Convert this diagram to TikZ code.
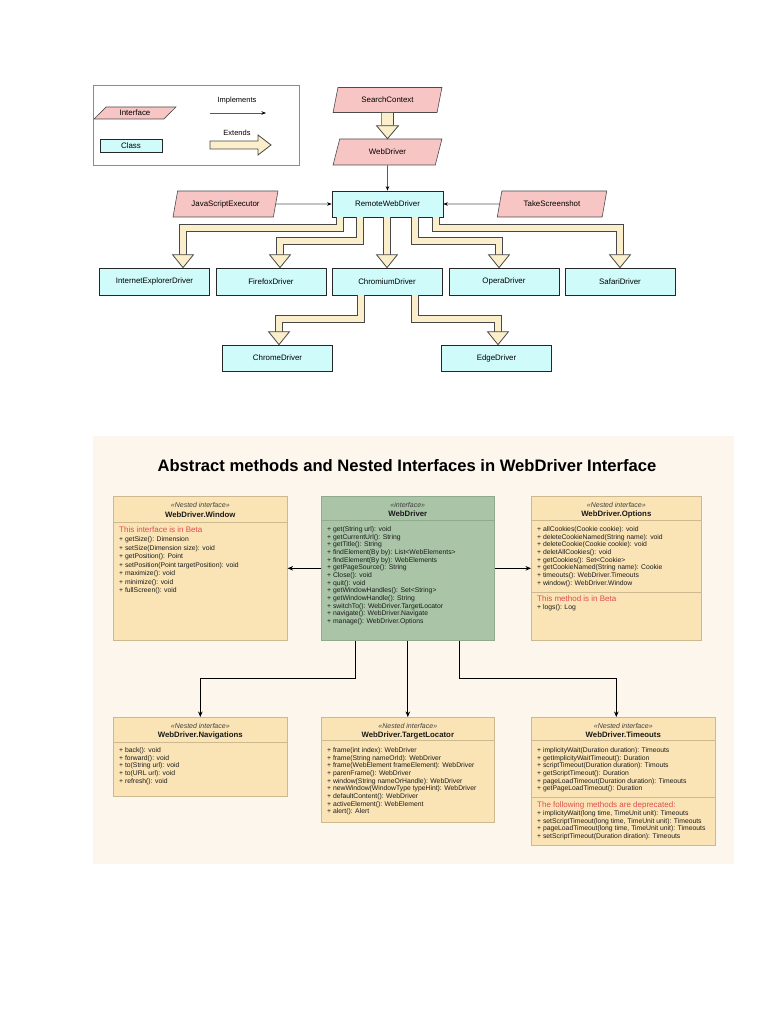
\documentclass[tikz,border=0pt]{standalone}
\usepackage{fontspec}
\setmainfont{Liberation Sans}
\usetikzlibrary{shapes.geometric,arrows.meta,calc}
\definecolor{ifcfill}{HTML}{F7C6C4}
\definecolor{clsfill}{HTML}{CFFBFB}
\definecolor{pipefill}{HTML}{FBEFCB}
\definecolor{panelbg}{HTML}{FDF6EC}
\definecolor{ybox}{HTML}{FAE4B6}
\definecolor{yline}{HTML}{CDB98F}
\definecolor{gbox}{HTML}{A9C4A6}
\definecolor{gline}{HTML}{8FAA8C}
\definecolor{redt}{HTML}{E04B4F}
\definecolor{txt}{HTML}{1A1A1A}
\newcommand\fatpipe[2]{\draw[pipeo] #1; \draw[pipei] #1; \draw[headst] #2 -- ++(-10.5,-13) -- ++(21,0) -- cycle;}
\begin{document}
\begin{tikzpicture}[x=1pt,y=-1pt,
  ifc/.style={trapezium, trapezium left angle=66, trapezium right angle=114, trapezium stretches=true, draw=black!70, line width=0.6pt, fill=ifcfill, minimum width=109pt, minimum height=25pt, inner sep=0pt, font=\fontsize{7.9}{9}\selectfont},
  cls/.style={rectangle, draw=black!85, line width=0.7pt, fill=clsfill, minimum width=110pt, minimum height=27pt, inner sep=0pt, font=\fontsize{7.9}{9}\selectfont},
  lbl/.style={inner sep=0pt, font=\fontsize{7.5}{9}\selectfont},
  impl/.style={draw=black!65, line width=0.6pt, -{Stealth[length=4.5pt,width=3.5pt,color=black]}},
  pipeo/.style={draw=black!72, line width=8pt, line join=miter, shorten >=13pt},
  pipei/.style={draw=pipefill, line width=6.4pt, line join=miter, shorten >=13pt},
  headst/.style={draw=black!72, fill=pipefill, line width=0.8pt, line join=miter},
  ybx/.style={rectangle, draw=yline, line width=0.6pt, fill=ybox, inner sep=0pt, anchor=north west},
  gbx/.style={rectangle, draw=gline, line width=0.6pt, fill=gbox, inner sep=0pt, anchor=north west},
  yl/.style={draw=yline, line width=0.6pt},
  gl/.style={draw=gline, line width=0.6pt},
  stereo/.style={inner sep=0pt, text=black!75, font=\itshape\fontsize{7}{8}\selectfont},
  nm/.style={inner sep=0pt, text=txt, font=\bfseries\fontsize{7.8}{9}\selectfont},
  meth/.style={inner sep=0pt, anchor=north west, align=left, text=txt, font=\fontsize{6.8}{7.67}\selectfont},
  redtxt/.style={inner sep=0pt, anchor=base west, text=redt, font=\fontsize{8}{9}\selectfont},
  uarr/.style={draw=black, line width=0.9pt, -{Stealth[length=5.5pt,width=4.5pt]}}
]
\fill[white] (0,0) rectangle (768,1024);
\useasboundingbox (0,0) rectangle (768,1024);

% ---------- legend ----------
\node[draw=black!45, line width=0.6pt, minimum width=206pt, minimum height=80pt, anchor=north west, inner sep=0pt] (legend) at (93,85) {};
\node[ifc, trapezium left angle=42, trapezium right angle=138, minimum width=82pt, minimum height=12pt] (legI) at (135,113) {Interface};
\node[cls, minimum width=62pt, minimum height=13pt] (legC) at (131,145.5) {Class};
\node[lbl] (legImpl) at (237,101) {Implements};
\coordinate (iA) at (210,113);
\coordinate (iB) at (266,113);
\draw[impl] (iA) -- (iB);
\node[lbl] (legExt) at (237,133) {Extends};
\draw[headst] (210,141) -- (258,141) -- (258,135) -- (271,145) -- (258,155) -- (258,149) -- (210,149) -- cycle;

% ---------- top hierarchy ----------
\node[ifc] (sc) at (387.5,100) {SearchContext};
\node[ifc, minimum height=26pt] (wdi) at (387.5,152) {WebDriver};
\node[cls, minimum width=111pt, minimum height=26pt] (rwd) at (387.5,204) {RemoteWebDriver};
\node[ifc, minimum width=105pt, minimum height=26pt] (jse) at (225.5,204) {JavaScriptExecutor};
\node[ifc, minimum width=110pt, minimum height=26pt] (tss) at (552,204) {TakeScreenshot};
\node[cls] (ie) at (154.5,281.5) {InternetExplorerDriver};
\node[cls] (ff) at (271,281.5) {FirefoxDriver};
\node[cls] (chm) at (387,281.5) {ChromiumDriver};
\node[cls] (op) at (504,281.5) {OperaDriver};
\node[cls] (sf) at (620,281.5) {SafariDriver};
\node[cls, minimum height=26pt] (chr) at (277.5,358) {ChromeDriver};
\node[cls, minimum height=26pt] (edg) at (496.5,358) {EdgeDriver};

\draw[impl] (wdi.south) -- (rwd.north);
\draw[impl] (jse.east) -- (rwd.west);
\draw[impl] (tss.west) -- (rwd.east);

\draw[pipeo, line width=12.5pt] (sc.south) -- (wdi.north);
\draw[pipei, line width=10.9pt] (sc.south) -- (wdi.north);
\draw[headst] (wdi.north) -- ++(-11,-13) -- ++(22,0) -- cycle;

\coordinate (p1) at (340,0);
\coordinate (p2) at (360,0);
\coordinate (p4) at (415,0);
\coordinate (p5) at (436,0);
\coordinate (kIE) at (183,228);
\coordinate (kFF) at (280,241);
\coordinate (kOP) at (499,241);
\coordinate (kSF) at (620,228);
\fatpipe{(rwd.south -| p1) |- (kIE) -- (ie.north -| kIE)}{(ie.north -| kIE)}
\fatpipe{(rwd.south -| p2) |- (kFF) -- (ff.north -| kFF)}{(ff.north -| kFF)}
\fatpipe{(rwd.south -| chm.north) -- (chm.north)}{(chm.north)}
\fatpipe{(rwd.south -| p4) |- (kOP) -- (op.north -| kOP)}{(op.north -| kOP)}
\fatpipe{(rwd.south -| p5) |- (kSF) -- (sf.north -| kSF)}{(sf.north -| kSF)}

\coordinate (q1) at (361,0);
\coordinate (q2) at (415,0);
\coordinate (kCR) at (279,319);
\coordinate (kED) at (498,319);
\fatpipe{(chm.south -| q1) |- (kCR) -- (chr.north -| kCR)}{(chr.north -| kCR)}
\fatpipe{(chm.south -| q2) |- (kED) -- (edg.north -| kED)}{(edg.north -| kED)}

% ---------- bottom panel ----------
\node[fill=panelbg, minimum width=641pt, minimum height=428pt, anchor=north west, inner sep=0pt] (panel) at (93,436) {};
\node[inner sep=0pt, font=\bfseries\fontsize{16.6}{19}\selectfont] (title) at (407,466) {Abstract methods and Nested Interfaces in WebDriver Interface};

% Window
\node[ybx, minimum width=174pt, minimum height=144pt] (win) at (113,496) {};
\draw[yl] ($(win.north west)+(0,26)$) -- ($(win.north east)+(0,26)$);
\node[stereo] (winS) at ($(win.north)+(0,9)$) {<<Nested interface>>};
\node[nm] (winN) at ($(win.north)+(0,19)$) {WebDriver.Window};
\node[redtxt] (winR) at ($(win.north west)+(6,36.9)$) {This interface is in Beta};
\node[meth, font=\fontsize{6.8}{8.5}\selectfont] (winM) at ($(win.north west)+(6,39.35)$) {\strut+ getSize(): Dimension\\+ setSize(Dimension size): void\\+ getPosition(): Point\\+ setPosition(Point targetPosition): void\\+ maximize(): void\\+ minimize(): void\\+ fullScreen(): void};

% WebDriver
\node[gbx, minimum width=173pt, minimum height=144pt] (wd) at (321,496) {};
\draw[gl] ($(wd.north west)+(0,24)$) -- ($(wd.north east)+(0,24)$);
\node[stereo] (wdS) at ($(wd.north)+(0,9)$) {<<interface>>};
\node[nm] (wdN) at ($(wd.north)+(0,18)$) {WebDriver};
\node[meth] (wdM) at ($(wd.north west)+(6,29.9)$) {\strut+ get(String url): void\\+ getCurrentUrl(): String\\+ getTitle(): String\\+ findElement(By by): List<WebElements>\\+ findElement(By by): WebElements\\+ getPageSource(): String\\+ Close(): void\\+ quit(): void\\+ getWindowHandles(): Set<String>\\+ getWindowHandle(): String\\+ switchTo(): WebDriver.TargetLocator\\+ navigate(): WebDriver.Navigate\\+ manage(): WebDriver.Options};

% Options
\node[ybx, minimum width=170pt, minimum height=144pt] (opt) at (531,496) {};
\draw[yl] ($(opt.north west)+(0,24)$) -- ($(opt.north east)+(0,24)$);
\draw[yl] ($(opt.north west)+(0,96)$) -- ($(opt.north east)+(0,96)$);
\node[stereo] (optS) at ($(opt.north)+(0,9)$) {<<Nested interface>>};
\node[nm] (optN) at ($(opt.north)+(0,18)$) {WebDriver.Options};
\node[meth] (optM) at ($(opt.north west)+(6,29.9)$) {\strut+ allCookies(Cookie cookie): void\\+ deleteCookieNamed(String name): void\\+ deleteCookie(Cookie cookie): void\\+ deletAllCookies(): void\\+ getCookies(): Set<Cookie>\\+ getCookieNamed(String name): Cookie\\+ timeouts(): WebDriver.Timeouts\\+ window(): WebDriver.Window};
\node[redtxt] (optR) at ($(opt.north west)+(6,105.9)$) {This method is in Beta};
\node[meth] (optL) at ($(opt.north west)+(6,108.1)$) {\strut+ logs(): Log};

% Navigations
\node[ybx, minimum width=174pt, minimum height=79pt] (nav) at (113,717) {};
\draw[yl] ($(nav.north west)+(0,25)$) -- ($(nav.north east)+(0,25)$);
\node[stereo] (navS) at ($(nav.north)+(0,9)$) {<<Nested interface>>};
\node[nm] (navN) at ($(nav.north)+(0,18)$) {WebDriver.Navigations};
\node[meth] (navM) at ($(nav.north west)+(6,29.9)$) {\strut+ back(): void\\+ forward(): void\\+ to(String url): void\\+ to(URL url): void\\+ refresh(): void};

% TargetLocator
\node[ybx, minimum width=173pt, minimum height=105pt] (tl) at (321,717) {};
\draw[yl] ($(tl.north west)+(0,23)$) -- ($(tl.north east)+(0,23)$);
\node[stereo] (tlS) at ($(tl.north)+(0,9)$) {<<Nested interface>>};
\node[nm] (tlN) at ($(tl.north)+(0,18)$) {WebDriver.TargetLocator};
\node[meth] (tlM) at ($(tl.north west)+(6,29.9)$) {\strut+ frame(int index): WebDriver\\+ frame(String nameOrId): WebDriver\\+ frame(WebElement frameElement): WebDriver\\+ parenFrame(): WebDriver\\+ window(String nameOrHandle): WebDriver\\+ newWindow(WindowType typeHint): WebDriver\\+ defaultContent(): WebDriver\\+ activeElement(): WebElement\\+ alert(): Alert};

% Timeouts
\node[ybx, minimum width=184pt, minimum height=128pt] (tmo) at (531,717) {};
\draw[yl] ($(tmo.north west)+(0,23)$) -- ($(tmo.north east)+(0,23)$);
\draw[yl] ($(tmo.north west)+(0,80)$) -- ($(tmo.north east)+(0,80)$);
\node[stereo] (tmoS) at ($(tmo.north)+(0,9)$) {<<Nested interface>>};
\node[nm] (tmoN) at ($(tmo.north)+(0,18)$) {WebDriver.Timeouts};
\node[meth] (tmoM) at ($(tmo.north west)+(6,29.9)$) {\strut+ implicityWait(Duration duration): Timeouts\\+ getImplicityWaitTimeout(): Duration\\+ scriptTimeout(Duration duration): Timouts\\+ getScriptTimeout(): Duration\\+ pageLoadTimeout(Duration duration): Timeouts\\+ getPageLoadTimeout(): Duration};
\node[redtxt] (tmoR) at ($(tmo.north west)+(6,90)$) {The following methods are deprecated:};
\node[meth] (tmoD) at ($(tmo.north west)+(6,92.9)$) {\strut+ implicityWait(long time, TimeUnit unit): Timeouts\\+ setScriptTimeout(long time, TimeUnit unit): Timeouts\\+ pageLoadTimeout(long time, TimeUnit unit): Timeouts\\+ setScriptTimeout(Duration diration): Timeouts};

% connectors
\draw[uarr] (wd.west) -- (win.east);
\draw[uarr] (wd.east) -- (opt.west);
\coordinate (jL) at (355,678);
\coordinate (jR) at (459,678);
\draw[uarr] (wd.south -| jL) -- (jL) -| (nav.north);
\draw[uarr] (wd.south) -- (tl.north);
\draw[uarr] (wd.south -| jR) -- (jR) -| (tmo.north -| opt.south);
\end{tikzpicture}
\end{document}
